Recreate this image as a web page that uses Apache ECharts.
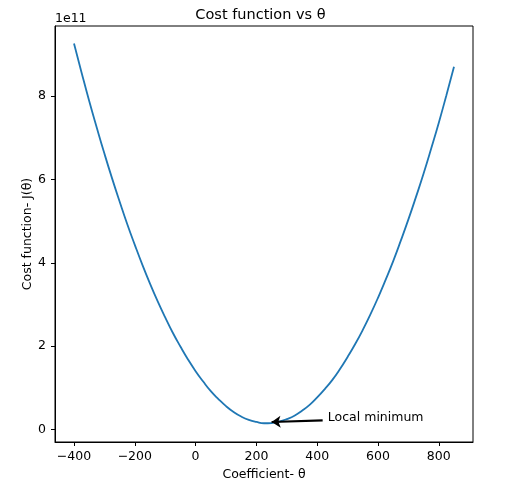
<!DOCTYPE html>
<html>
<head>
<meta charset="utf-8">
<script src="https://cdn.jsdelivr.net/npm/echarts@6/dist/echarts.min.js"></script>
<style>
html,body{margin:0;padding:0;background:#fff;}
#chart{width:521px;height:490px;}
</style>
</head>
<body>
<div id="chart"></div>
<script>
// Coefficient θ values
var theta = [-400,-375,-350,-325,-300,-275,-250,-225,-200,-175,-150,-125,-100,-75,-50,-25,
  0,25,50,75,100,125,150,175,200,225,250,275,300,325,350,375,400,425,450,475,500,525,550,575,
  600,625,650,675,700,725,750,775,800,825,850];
// Cost J(θ), in units of 1e11
var cost = [9.26,8.56,7.88,7.24,6.62,6.03,5.47,4.93,4.43,3.95,3.50,3.08,2.69,2.32,1.99,1.68,
  1.40,1.15,0.92,0.73,0.56,0.42,0.31,0.23,0.18,0.15,0.155,0.19,0.25,0.33,0.45,0.59,0.77,0.97,1.19,1.45,1.74,2.05,2.39,2.76,
  3.16,3.59,4.04,4.53,5.04,5.58,6.14,6.74,7.36,8.02,8.70];
var xTicks = [-400,-200,0,200,400,600,800];
var yTicks = [0,2,4,6,8];
var arrowTip = [250, 0.18];
var arrowTail = [418, 0.22];
var textPos = [435, 0.29];

var font = 'DejaVu Sans';
var fs = 12.5;
var data = theta.map(function(t,i){return [t, cost[i]];});
var chart = echarts.init(document.getElementById('chart'), null, {renderer:'canvas'});
chart.setOption({
  animation:false,
  backgroundColor:'#fff',
  title:{text:'Cost function vs θ', left:'center', top:3, itemGap:0,
    textStyle:{fontFamily:font, fontSize:14.5, fontWeight:'normal', color:'#000'}},
  graphic:[{type:'text', left:55, top:12, style:{text:'1e11', font:'12.5px "DejaVu Sans"', fill:'#000'}}],
  grid:{left:55, right:48, top:26, bottom:48, show:true, borderColor:'#000', borderWidth:1, backgroundColor:'transparent'},
  xAxis:{type:'value', min:-462.5, max:912.5,
    name:'Coefficient- θ', nameLocation:'middle', nameGap:26,
    nameTextStyle:{fontFamily:font, fontSize:fs, color:'#000'},
    axisLine:{show:true, onZero:false, lineStyle:{color:'#000', width:1}},
    axisTick:{show:true, inside:false, length:4, customValues:xTicks, lineStyle:{color:'#000'}},
    axisLabel:{customValues:xTicks, fontFamily:font, fontSize:fs, color:'#000', margin:8,
      formatter:function(v){return String(v).replace('-','\u2212');}},
    splitLine:{show:false}},
  yAxis:{type:'value', min:-0.30, max:9.68,
    name:'Cost function- J(θ)', nameLocation:'middle', nameGap:21, nameRotate:90, nameMoveOverlap:false,
    nameTextStyle:{fontFamily:font, fontSize:fs, color:'#000'},
    axisLine:{show:true, onZero:false, lineStyle:{color:'#000', width:1}},
    axisTick:{show:true, inside:false, length:4, customValues:yTicks, lineStyle:{color:'#000'}},
    axisLabel:{customValues:yTicks, fontFamily:font, fontSize:fs, color:'#000', margin:9},
    splitLine:{show:false}},
  series:[{
    type:'line', data:data, smooth:true, showSymbol:false, symbol:'none',
    lineStyle:{color:'#1f77b4', width:1.8},
    markLine:{silent:true, symbol:['none','arrow'], symbolSize:[9,9],
      lineStyle:{color:'#000', width:2.2, type:'solid'}, label:{show:false},
      data:[[{coord:arrowTail},{coord:arrowTip}]]},
    markPoint:{silent:true, symbol:'circle', symbolSize:0,
      data:[{coord:textPos, label:{show:true, position:'right', distance:0, formatter:'Local minimum',
        fontFamily:font, fontSize:fs, color:'#000'}}]}
  }]
});
</script>
</body>
</html>
